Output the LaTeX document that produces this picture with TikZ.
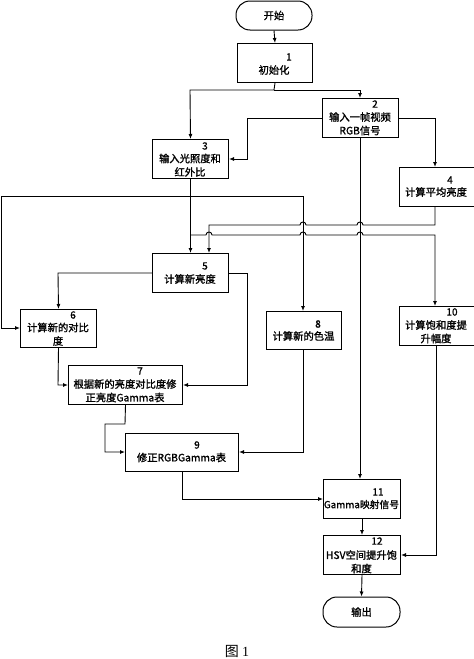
\documentclass[tikz,border=0pt]{standalone}
\usepackage{fontspec}
\setmainfont{Noto Sans CJK SC}[FakeBold=1.2]
\newfontfamily\capfont{Noto Sans CJK SC}
\newfontfamily\capnum{Liberation Serif}
\usetikzlibrary{arrows.meta}
\begin{document}
\begin{tikzpicture}[x=1pt,y=-1pt,
  boxnode/.style={draw,line width=1pt,inner sep=0pt,anchor=north west},
  termnode/.style={draw,line width=1pt,inner sep=0pt,rounded corners=14pt},
  txt/.style={inner sep=0pt,font=\fontsize{10.3}{12}\selectfont},
  num/.style={inner sep=0pt,font=\fontsize{10}{12}\selectfont},
  conn/.style={line width=0.9pt,-{Latex[length=5pt,width=4pt]}},
  plain/.style={line width=0.9pt}]
\useasboundingbox (0,0) rectangle (474,659);
% terminals
\node[termnode,minimum width=76pt,minimum height=29pt] (st) at (274,15.5) {};
\node[txt] (stt) at (274,15.5) {开始};
\node[termnode,minimum width=77pt,minimum height=30pt] (en) at (361.5,612) {};
\node[txt] (ent) at (361.5,612) {输出};
% boxes
\node[boxnode,minimum width=75pt,minimum height=39pt] (b1) at (237,43) {};
\node[num] (n1) at (289,57) {1};
\node[txt] (t1) at (274,70) {初始化};
\node[boxnode,minimum width=76pt,minimum height=39pt] (b2) at (322,98) {};
\node[num] (n2) at (375,104) {2};
\node[txt] (t2a) at (360,117) {输入一帧视频};
\node[txt] (t2b) at (360,130.5) {RGB信号};
\node[boxnode,minimum width=76pt,minimum height=39pt] (b3) at (152,139) {};
\node[num] (n3) at (205,146) {3};
\node[txt] (t3a) at (190,158.5) {输入光照度和};
\node[txt] (t3b) at (190,172) {红外比};
\node[boxnode,minimum width=74.5pt,minimum height=39pt] (b4) at (399,167) {};
\node[num] (n4) at (450,180) {4};
\node[txt] (t4) at (436,192) {计算平均亮度};
\node[boxnode,minimum width=76pt,minimum height=39pt] (b5) at (152,253) {};
\node[num] (n5) at (205,266) {5};
\node[txt] (t5) at (190,279) {计算新亮度};
\node[boxnode,minimum width=76pt,minimum height=38pt] (b6) at (20,309) {};
\node[num] (n6) at (73,315) {6};
\node[txt] (t6a) at (58,327.5) {计算新的对比};
\node[txt] (t6b) at (58,341) {度};
\node[boxnode,minimum width=114pt,minimum height=39pt] (b7) at (68,365) {};
\node[num] (n7) at (140,371) {7};
\node[txt] (t7a) at (125,384) {根据新的亮度对比度修};
\node[txt] (t7b) at (125,397.5) {正亮度Gamma表};
\node[boxnode,minimum width=75pt,minimum height=38pt] (b8) at (266,311) {};
\node[num] (n8) at (318,324) {8};
\node[txt] (t8) at (303.5,336) {计算新的色温};
\node[boxnode,minimum width=113pt,minimum height=38pt] (b9) at (125,433) {};
\node[num] (n9) at (197,445) {9};
\node[txt] (t9) at (181.5,457.5) {修正RGBGamma表};
\node[boxnode,minimum width=74.5pt,minimum height=39pt] (b10) at (399,306) {};
\node[num] (n10) at (452,312) {10};
\node[txt] (t10a) at (436,325) {计算饱和度提};
\node[txt] (t10b) at (436,338.5) {升幅度};
\node[boxnode,minimum width=77pt,minimum height=39pt] (b11) at (323,479) {};
\node[num] (n11) at (378,492) {11};
\node[txt,font=\fontsize{9.8}{12}\selectfont] (t11) at (361.5,504.5) {Gamma映射信号};
\node[boxnode,minimum width=77pt,minimum height=39pt] (b12) at (323,535) {};
\node[num] (n12) at (377,541) {12};
\node[txt] (t12a) at (361.5,555) {HSV空间提升饱};
\node[txt] (t12b) at (361.5,568.5) {和度};
\node[inner sep=0pt,font=\fontsize{14}{16}\selectfont] (cap) at (237,651.5) {{\capfont 图} {\capnum 1}};
% junction coordinates
\coordinate (j1) at (274,90);
\coordinate (j3) at (190,235);
\coordinate (jl) at (1.5,196);
% connectors
\draw[conn] (st.south) -- (b1.north);
\draw[conn] (b1.south) -- (j1) -- (190,90) -- (b3.north);
\draw[conn] (j1) -- (360,90) -- (b2.north -| 360,0);
\draw[conn] (b2.west |- 0,118) -- (247,118) -- (247,159) -- (b3.east |- 0,159);
\draw[conn] (b2.east |- 0,118) -- (435,118) -- (b4.north -| 435,0);
\draw[conn] (b2.south -| 360,0) -- (b11.north -| 360,0);
\draw[conn] (b3.south) -- (b5.north);
\draw[conn] (b4.south -| 435,0) -- (435,225) -- (363,225)
   .. controls (363,221) and (357,221) .. (357,225) -- (306,225)
   .. controls (306,221) and (300,221) .. (300,225) -- (209,225) -- (b5.north -| 209,0);
\draw[conn] (j3) -- (206,235) .. controls (206,231) and (212,231) .. (212,235)
   -- (300,235) .. controls (300,231) and (306,231) .. (306,235)
   -- (357,235) .. controls (357,231) and (363,231) .. (363,235)
   -- (435,235) -- (b10.north -| 435,0);
\draw[conn] (jl) -- (303,196) -- (b8.north -| 303,0);
\draw[conn] (jl) -- (1.5,328) -- (b6.west |- 0,328);
\draw[conn] (b5.west |- 0,273) -- (58,273) -- (b6.north);
\draw[conn] (b5.east |- 0,273) -- (247,273) -- (247,385) -- (b7.east |- 0,385);
\draw[conn] (b6.south) -- (58,385) -- (b7.west |- 0,385);
\draw[conn] (b7.south) -- (125,424) -- (105,424) -- (105,452) -- (b9.west |- 0,452);
\draw[conn] (b8.south -| 303,0) -- (303,452) -- (b9.east |- 0,452);
\draw[conn] (b9.south) -- (182,499) -- (b11.west |- 0,499);
\draw[conn] (b10.south -| 436,0) -- (436,555) -- (b12.east |- 0,555);
\draw[conn] (b11.south) -- (b12.north);
\draw[conn] (b12.south) -- (en.north);
\end{tikzpicture}
\end{document}
